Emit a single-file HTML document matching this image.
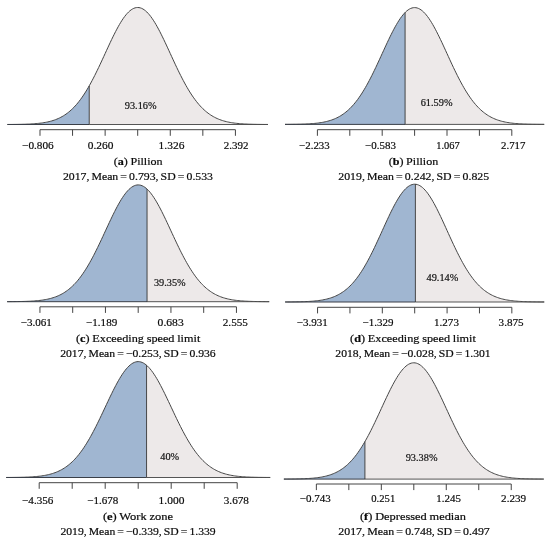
<!DOCTYPE html>
<html><head><meta charset="utf-8"><title>Figure</title>
<style>html,body{margin:0;padding:0;background:#fff}body{width:550px;height:541px;overflow:hidden}</style></head>
<body>
<svg width="550" height="541" viewBox="0 0 550 541" style="display:block" font-family="'Liberation Serif', serif" fill="#111">
<style>text{stroke:#0a0a0a;stroke-width:0.2px;fill:#0a0a0a}text.p{stroke:#111;stroke-width:0.2px;fill:#111}</style>
<rect width="550" height="541" fill="#fff"/>
<path d="M7.42,124.46 L8.44,124.46 L9.47,124.45 L10.49,124.44 L11.51,124.44 L12.53,124.43 L13.56,124.42 L14.58,124.41 L15.60,124.40 L16.62,124.38 L17.65,124.37 L18.67,124.35 L19.69,124.33 L20.72,124.32 L21.74,124.29 L22.76,124.27 L23.78,124.24 L24.81,124.21 L25.83,124.18 L26.85,124.14 L27.88,124.10 L28.90,124.06 L29.92,124.01 L30.94,123.96 L31.97,123.90 L32.99,123.83 L34.01,123.76 L35.03,123.69 L36.06,123.60 L37.08,123.51 L38.10,123.41 L39.13,123.30 L40.15,123.18 L41.17,123.05 L42.19,122.91 L43.22,122.76 L44.24,122.59 L45.26,122.42 L46.29,122.22 L47.31,122.01 L48.33,121.79 L49.35,121.55 L50.38,121.28 L51.40,121.00 L52.42,120.70 L53.44,120.38 L54.47,120.03 L55.49,119.66 L56.51,119.26 L57.54,118.84 L58.56,118.39 L59.58,117.91 L60.60,117.40 L61.63,116.85 L62.65,116.27 L63.67,115.66 L64.70,115.01 L65.72,114.32 L66.74,113.60 L67.76,112.83 L68.79,112.02 L69.81,111.17 L70.83,110.28 L71.85,109.34 L72.88,108.35 L73.90,107.32 L74.92,106.24 L75.95,105.11 L76.97,103.93 L77.99,102.70 L79.01,101.42 L80.04,100.09 L81.06,98.71 L82.08,97.27 L83.11,95.79 L84.13,94.25 L85.15,92.66 L86.17,91.03 L87.20,89.34 L88.22,87.60 L89.24,85.82 L89.24,124.5 Z" fill="#a0b6d1"/>
<path d="M89.24,85.82 L91.48,81.76 L93.71,77.50 L95.94,73.06 L98.18,68.46 L100.41,63.74 L102.65,58.93 L104.88,54.08 L107.12,49.21 L109.35,44.39 L111.58,39.66 L113.82,35.08 L116.05,30.69 L118.29,26.54 L120.52,22.69 L122.76,19.19 L124.99,16.08 L127.22,13.40 L129.46,11.19 L131.69,9.47 L133.93,8.28 L136.16,7.63 L138.40,7.53 L140.63,7.97 L142.86,8.96 L145.10,10.48 L147.33,12.51 L149.57,15.01 L151.80,17.97 L154.03,21.33 L156.27,25.05 L158.50,29.09 L160.74,33.39 L162.97,37.91 L165.21,42.59 L167.44,47.39 L169.67,52.24 L171.91,57.10 L174.14,61.94 L176.38,66.69 L178.61,71.34 L180.85,75.84 L183.08,80.18 L185.31,84.31 L187.55,88.23 L189.78,91.92 L192.02,95.38 L194.25,98.58 L196.48,101.55 L198.72,104.27 L200.95,106.75 L203.19,109.00 L205.42,111.03 L207.66,112.85 L209.89,114.47 L212.12,115.90 L214.36,117.17 L216.59,118.28 L218.83,119.24 L221.06,120.08 L223.30,120.80 L225.53,121.42 L227.76,121.94 L230.00,122.39 L232.23,122.77 L234.47,123.08 L236.70,123.35 L238.94,123.57 L241.17,123.75 L243.40,123.90 L245.64,124.02 L247.87,124.12 L250.11,124.20 L252.34,124.26 L254.57,124.31 L256.81,124.35 L259.04,124.39 L261.28,124.41 L263.51,124.43 L265.75,124.45 L267.98,124.46 L89.24,124.5 Z" fill="#ede9e9"/>
<path d="M7.42,124.46 L8.72,124.45 L10.03,124.45 L11.33,124.44 L12.63,124.43 L13.93,124.41 L15.24,124.40 L16.54,124.38 L17.84,124.37 L19.15,124.34 L20.45,124.32 L21.75,124.29 L23.05,124.26 L24.36,124.23 L25.66,124.18 L26.96,124.14 L28.26,124.09 L29.57,124.03 L30.87,123.96 L32.17,123.89 L33.48,123.80 L34.78,123.71 L36.08,123.60 L37.38,123.48 L38.69,123.35 L39.99,123.20 L41.29,123.04 L42.60,122.85 L43.90,122.65 L45.20,122.43 L46.50,122.18 L47.81,121.91 L49.11,121.61 L50.41,121.27 L51.72,120.91 L53.02,120.52 L54.32,120.08 L55.62,119.61 L56.93,119.10 L58.23,118.54 L59.53,117.93 L60.83,117.28 L62.14,116.57 L63.44,115.80 L64.74,114.98 L66.05,114.10 L67.35,113.15 L68.65,112.13 L69.95,111.05 L71.26,109.89 L72.56,108.67 L73.86,107.36 L75.17,105.98 L76.47,104.52 L77.77,102.97 L79.07,101.35 L80.38,99.64 L81.68,97.85 L82.98,95.97 L84.29,94.01 L85.59,91.97 L86.89,89.85 L88.19,87.65 L89.50,85.37 L90.80,83.01 L92.10,80.59 L93.40,78.10 L94.71,75.54 L96.01,72.93 L97.31,70.26 L98.62,67.55 L99.92,64.80 L101.22,62.01 L102.52,59.20 L103.83,56.37 L105.13,53.54 L106.43,50.70 L107.74,47.87 L109.04,45.06 L110.34,42.28 L111.64,39.54 L112.95,36.85 L114.25,34.21 L115.55,31.65 L116.86,29.17 L118.16,26.77 L119.46,24.48 L120.76,22.30 L122.07,20.23 L123.37,18.29 L124.67,16.50 L125.97,14.84 L127.28,13.34 L128.58,12.00 L129.88,10.82 L131.19,9.82 L132.49,8.99 L133.79,8.34 L135.09,7.87 L136.40,7.59 L137.70,7.50 L139.00,7.59 L140.31,7.87 L141.61,8.34 L142.91,8.99 L144.21,9.82 L145.52,10.82 L146.82,12.00 L148.12,13.34 L149.43,14.84 L150.73,16.50 L152.03,18.29 L153.33,20.23 L154.64,22.30 L155.94,24.48 L157.24,26.77 L158.54,29.17 L159.85,31.65 L161.15,34.21 L162.45,36.85 L163.76,39.54 L165.06,42.28 L166.36,45.06 L167.66,47.87 L168.97,50.70 L170.27,53.54 L171.57,56.37 L172.88,59.20 L174.18,62.01 L175.48,64.80 L176.78,67.55 L178.09,70.26 L179.39,72.93 L180.69,75.54 L182.00,78.10 L183.30,80.59 L184.60,83.01 L185.90,85.37 L187.21,87.65 L188.51,89.85 L189.81,91.97 L191.11,94.01 L192.42,95.97 L193.72,97.85 L195.02,99.64 L196.33,101.35 L197.63,102.97 L198.93,104.52 L200.23,105.98 L201.54,107.36 L202.84,108.67 L204.14,109.89 L205.45,111.05 L206.75,112.13 L208.05,113.15 L209.35,114.10 L210.66,114.98 L211.96,115.80 L213.26,116.57 L214.57,117.28 L215.87,117.93 L217.17,118.54 L218.47,119.10 L219.78,119.61 L221.08,120.08 L222.38,120.52 L223.68,120.91 L224.99,121.27 L226.29,121.61 L227.59,121.91 L228.90,122.18 L230.20,122.43 L231.50,122.65 L232.80,122.85 L234.11,123.04 L235.41,123.20 L236.71,123.35 L238.02,123.48 L239.32,123.60 L240.62,123.71 L241.92,123.80 L243.23,123.89 L244.53,123.96 L245.83,124.03 L247.14,124.09 L248.44,124.14 L249.74,124.18 L251.04,124.23 L252.35,124.26 L253.65,124.29 L254.95,124.32 L256.25,124.34 L257.56,124.37 L258.86,124.38 L260.16,124.40 L261.47,124.41 L262.77,124.43 L264.07,124.44 L265.37,124.45 L266.68,124.45 L267.98,124.46" fill="none" stroke="#464646" stroke-width="1"/>
<path d="M7.42,124.5 L89.24,124.5" fill="none" stroke="#3a3f48" stroke-width="1"/>
<path d="M89.24,124.5 L267.98,124.5" fill="none" stroke="#4c4c4c" stroke-width="0.95"/>
<path d="M89.24,85.82 L89.24,124.5" stroke="#2a2a2a" stroke-width="0.85" fill="none"/>
<path d="M39.99,129.7 L235.41,129.7 M39.99,129.7 v6.1 M72.56,129.7 v6.1 M105.13,129.7 v6.1 M137.70,129.7 v6.1 M170.27,129.7 v6.1 M202.84,129.7 v6.1 M235.41,129.7 v6.1" stroke="#444" stroke-width="1" fill="none"/>
<text class="p" x="140.7" y="108.5" font-size="10.3" text-anchor="middle">93.16%</text>
<text x="22.1" y="148.6" font-size="11.3" textLength="31.6" lengthAdjust="spacingAndGlyphs">−0.806</text>
<text x="87.8" y="148.6" font-size="11.3" textLength="25.6" lengthAdjust="spacingAndGlyphs">0.260</text>
<text x="158.6" y="148.6" font-size="11.3" textLength="25.8" lengthAdjust="spacingAndGlyphs">1.326</text>
<text x="223.8" y="148.6" font-size="11.3" textLength="24.6" lengthAdjust="spacingAndGlyphs">2.392</text>
<text x="113.7" y="164.6" font-size="11.3" word-spacing="-0.3" textLength="48.9" lengthAdjust="spacingAndGlyphs" xml:space="preserve">(<tspan font-weight="bold">a</tspan>) Pillion</text>
<text x="62.9" y="179.8" font-size="11.3" textLength="150.1" lengthAdjust="spacingAndGlyphs" word-spacing="-0.8">2017, Mean = 0.793, SD = 0.533</text>
<path d="M285.00,124.36 L286.50,124.35 L288.00,124.34 L289.50,124.33 L291.00,124.32 L292.51,124.30 L294.01,124.29 L295.51,124.26 L297.01,124.24 L298.51,124.21 L300.01,124.18 L301.51,124.14 L303.01,124.09 L304.52,124.04 L306.02,123.97 L307.52,123.90 L309.02,123.82 L310.52,123.73 L312.02,123.62 L313.52,123.50 L315.02,123.36 L316.53,123.20 L318.03,123.03 L319.53,122.82 L321.03,122.60 L322.53,122.34 L324.03,122.05 L325.53,121.73 L327.03,121.37 L328.53,120.97 L330.04,120.53 L331.54,120.03 L333.04,119.49 L334.54,118.88 L336.04,118.22 L337.54,117.50 L339.04,116.70 L340.54,115.83 L342.05,114.88 L343.55,113.85 L345.05,112.74 L346.55,111.53 L348.05,110.23 L349.55,108.83 L351.05,107.33 L352.55,105.73 L354.06,104.02 L355.56,102.20 L357.06,100.27 L358.56,98.23 L360.06,96.08 L361.56,93.81 L363.06,91.44 L364.56,88.96 L366.06,86.37 L367.57,83.68 L369.07,80.89 L370.57,78.01 L372.07,75.05 L373.57,72.01 L375.07,68.91 L376.57,65.74 L378.07,62.53 L379.58,59.28 L381.08,56.01 L382.58,52.73 L384.08,49.45 L385.58,46.19 L387.08,42.97 L388.58,39.79 L390.08,36.68 L391.59,33.64 L393.09,30.71 L394.59,27.88 L396.09,25.19 L397.59,22.64 L399.09,20.24 L400.59,18.02 L402.09,15.99 L403.59,14.15 L405.10,12.52 L405.10,124.4 Z" fill="#a0b6d1"/>
<path d="M405.10,12.52 L406.83,10.91 L408.57,9.60 L410.31,8.62 L412.05,7.96 L413.79,7.64 L415.53,7.65 L417.27,8.00 L419.01,8.68 L420.75,9.68 L422.48,11.01 L424.22,12.64 L425.96,14.56 L427.70,16.77 L429.44,19.23 L431.18,21.93 L432.92,24.85 L434.66,27.96 L436.39,31.25 L438.13,34.68 L439.87,38.24 L441.61,41.89 L443.35,45.61 L445.09,49.38 L446.83,53.18 L448.57,56.98 L450.30,60.76 L452.04,64.50 L453.78,68.18 L455.52,71.79 L457.26,75.31 L459.00,78.72 L460.74,82.02 L462.48,85.20 L464.22,88.24 L465.95,91.14 L467.69,93.90 L469.43,96.50 L471.17,98.96 L472.91,101.27 L474.65,103.43 L476.39,105.44 L478.13,107.31 L479.86,109.04 L481.60,110.63 L483.34,112.10 L485.08,113.44 L486.82,114.66 L488.56,115.77 L490.30,116.78 L492.04,117.68 L493.77,118.50 L495.51,119.23 L497.25,119.89 L498.99,120.47 L500.73,120.99 L502.47,121.45 L504.21,121.85 L505.95,122.21 L507.69,122.52 L509.42,122.79 L511.16,123.02 L512.90,123.23 L514.64,123.41 L516.38,123.56 L518.12,123.69 L519.86,123.80 L521.60,123.90 L523.33,123.98 L525.07,124.05 L526.81,124.11 L528.55,124.16 L530.29,124.20 L532.03,124.24 L533.77,124.27 L535.51,124.29 L537.24,124.31 L538.98,124.33 L540.72,124.34 L542.46,124.35 L544.20,124.36 L405.10,124.4 Z" fill="#ede9e9"/>
<path d="M285.00,124.36 L286.30,124.35 L287.59,124.35 L288.89,124.34 L290.18,124.33 L291.48,124.31 L292.78,124.30 L294.07,124.28 L295.37,124.27 L296.66,124.25 L297.96,124.22 L299.26,124.19 L300.55,124.16 L301.85,124.13 L303.14,124.09 L304.44,124.04 L305.74,123.99 L307.03,123.93 L308.33,123.86 L309.62,123.79 L310.92,123.70 L312.22,123.61 L313.51,123.50 L314.81,123.38 L316.10,123.25 L317.40,123.10 L318.70,122.94 L319.99,122.76 L321.29,122.55 L322.58,122.33 L323.88,122.08 L325.18,121.81 L326.47,121.51 L327.77,121.18 L329.06,120.82 L330.36,120.42 L331.66,119.99 L332.95,119.52 L334.25,119.01 L335.54,118.45 L336.84,117.84 L338.14,117.19 L339.43,116.48 L340.73,115.72 L342.02,114.90 L343.32,114.01 L344.62,113.07 L345.91,112.05 L347.21,110.97 L348.50,109.82 L349.80,108.59 L351.10,107.29 L352.39,105.91 L353.69,104.45 L354.98,102.91 L356.28,101.29 L357.58,99.58 L358.87,97.79 L360.17,95.92 L361.46,93.96 L362.76,91.93 L364.06,89.81 L365.35,87.61 L366.65,85.33 L367.94,82.98 L369.24,80.56 L370.54,78.08 L371.83,75.53 L373.13,72.92 L374.42,70.26 L375.72,67.55 L377.02,64.80 L378.31,62.02 L379.61,59.21 L380.90,56.39 L382.20,53.56 L383.50,50.73 L384.79,47.90 L386.09,45.10 L387.38,42.32 L388.68,39.59 L389.98,36.90 L391.27,34.27 L392.57,31.71 L393.86,29.23 L395.16,26.84 L396.46,24.55 L397.75,22.37 L399.05,20.31 L400.34,18.38 L401.64,16.58 L402.94,14.93 L404.23,13.43 L405.53,12.09 L406.82,10.92 L408.12,9.91 L409.42,9.09 L410.71,8.44 L412.01,7.97 L413.30,7.69 L414.60,7.60 L415.90,7.69 L417.19,7.97 L418.49,8.44 L419.78,9.09 L421.08,9.91 L422.38,10.92 L423.67,12.09 L424.97,13.43 L426.26,14.93 L427.56,16.58 L428.86,18.38 L430.15,20.31 L431.45,22.37 L432.74,24.55 L434.04,26.84 L435.34,29.23 L436.63,31.71 L437.93,34.27 L439.22,36.90 L440.52,39.59 L441.82,42.32 L443.11,45.10 L444.41,47.90 L445.70,50.73 L447.00,53.56 L448.30,56.39 L449.59,59.21 L450.89,62.02 L452.18,64.80 L453.48,67.55 L454.78,70.26 L456.07,72.92 L457.37,75.53 L458.66,78.08 L459.96,80.56 L461.26,82.98 L462.55,85.33 L463.85,87.61 L465.14,89.81 L466.44,91.93 L467.74,93.96 L469.03,95.92 L470.33,97.79 L471.62,99.58 L472.92,101.29 L474.22,102.91 L475.51,104.45 L476.81,105.91 L478.10,107.29 L479.40,108.59 L480.70,109.82 L481.99,110.97 L483.29,112.05 L484.58,113.07 L485.88,114.01 L487.18,114.90 L488.47,115.72 L489.77,116.48 L491.06,117.19 L492.36,117.84 L493.66,118.45 L494.95,119.01 L496.25,119.52 L497.54,119.99 L498.84,120.42 L500.14,120.82 L501.43,121.18 L502.73,121.51 L504.02,121.81 L505.32,122.08 L506.62,122.33 L507.91,122.55 L509.21,122.76 L510.50,122.94 L511.80,123.10 L513.10,123.25 L514.39,123.38 L515.69,123.50 L516.98,123.61 L518.28,123.70 L519.58,123.79 L520.87,123.86 L522.17,123.93 L523.46,123.99 L524.76,124.04 L526.06,124.09 L527.35,124.13 L528.65,124.16 L529.94,124.19 L531.24,124.22 L532.54,124.25 L533.83,124.27 L535.13,124.28 L536.42,124.30 L537.72,124.31 L539.02,124.33 L540.31,124.34 L541.61,124.35 L542.90,124.35 L544.20,124.36" fill="none" stroke="#464646" stroke-width="1"/>
<path d="M285.00,124.4 L405.10,124.4" fill="none" stroke="#3a3f48" stroke-width="1"/>
<path d="M405.10,124.4 L544.20,124.4" fill="none" stroke="#4c4c4c" stroke-width="0.95"/>
<path d="M405.10,12.52 L405.10,124.4" stroke="#2a2a2a" stroke-width="0.85" fill="none"/>
<path d="M317.40,129.7 L511.80,129.7 M317.40,129.7 v6.1 M349.80,129.7 v6.1 M382.20,129.7 v6.1 M414.60,129.7 v6.1 M447.00,129.7 v6.1 M479.40,129.7 v6.1 M511.80,129.7 v6.1" stroke="#444" stroke-width="1" fill="none"/>
<text class="p" x="436.6" y="105.7" font-size="10.3" text-anchor="middle">61.59%</text>
<text x="299.1" y="148.6" font-size="11.3" textLength="30.6" lengthAdjust="spacingAndGlyphs">−2.233</text>
<text x="365.1" y="148.6" font-size="11.3" textLength="30.8" lengthAdjust="spacingAndGlyphs">−0.583</text>
<text x="436.3" y="148.6" font-size="11.3" textLength="23.4" lengthAdjust="spacingAndGlyphs">1.067</text>
<text x="501.1" y="148.6" font-size="11.3" textLength="24.3" lengthAdjust="spacingAndGlyphs">2.717</text>
<text x="388.7" y="164.6" font-size="11.3" word-spacing="-0.3" textLength="49.5" lengthAdjust="spacingAndGlyphs" xml:space="preserve">(<tspan font-weight="bold">b</tspan>) Pillion</text>
<text x="338.3" y="179.8" font-size="11.3" textLength="150.9" lengthAdjust="spacingAndGlyphs" word-spacing="-0.8">2019, Mean = 0.242, SD = 0.825</text>
<path d="M7.20,301.66 L8.95,301.65 L10.70,301.64 L12.44,301.63 L14.19,301.61 L15.94,301.59 L17.69,301.57 L19.44,301.54 L21.19,301.50 L22.93,301.46 L24.68,301.41 L26.43,301.35 L28.18,301.29 L29.93,301.21 L31.67,301.11 L33.42,301.00 L35.17,300.87 L36.92,300.72 L38.67,300.55 L40.41,300.35 L42.16,300.11 L43.91,299.85 L45.66,299.54 L47.41,299.20 L49.16,298.80 L50.90,298.35 L52.65,297.85 L54.40,297.28 L56.15,296.64 L57.90,295.92 L59.64,295.12 L61.39,294.23 L63.14,293.25 L64.89,292.16 L66.64,290.97 L68.39,289.66 L70.13,288.23 L71.88,286.67 L73.63,284.98 L75.38,283.15 L77.13,281.18 L78.87,279.06 L80.62,276.80 L82.37,274.38 L84.12,271.83 L85.87,269.12 L87.62,266.27 L89.36,263.28 L91.11,260.15 L92.86,256.90 L94.61,253.54 L96.36,250.06 L98.10,246.50 L99.85,242.85 L101.60,239.15 L103.35,235.40 L105.10,231.62 L106.84,227.84 L108.59,224.08 L110.34,220.36 L112.09,216.70 L113.84,213.13 L115.59,209.68 L117.33,206.36 L119.08,203.20 L120.83,200.23 L122.58,197.46 L124.33,194.92 L126.07,192.64 L127.82,190.62 L129.57,188.88 L131.32,187.45 L133.07,186.33 L134.82,185.52 L136.56,185.05 L138.31,184.90 L140.06,185.09 L141.81,185.61 L143.56,186.45 L145.30,187.62 L147.05,189.09 L147.05,301.7 Z" fill="#a0b6d1"/>
<path d="M147.05,189.09 L148.58,190.62 L150.11,192.37 L151.63,194.32 L153.16,196.47 L154.69,198.80 L156.21,201.30 L157.74,203.94 L159.27,206.73 L160.79,209.64 L162.32,212.65 L163.85,215.75 L165.37,218.92 L166.90,222.15 L168.43,225.41 L169.95,228.71 L171.48,232.01 L173.01,235.30 L174.54,238.58 L176.06,241.83 L177.59,245.03 L179.12,248.18 L180.64,251.26 L182.17,254.27 L183.70,257.20 L185.22,260.04 L186.75,262.78 L188.28,265.41 L189.80,267.95 L191.33,270.37 L192.86,272.69 L194.38,274.89 L195.91,276.97 L197.44,278.95 L198.97,280.81 L200.49,282.56 L202.02,284.21 L203.55,285.74 L205.07,287.18 L206.60,288.51 L208.13,289.75 L209.65,290.89 L211.18,291.95 L212.71,292.92 L214.23,293.81 L215.76,294.63 L217.29,295.37 L218.81,296.05 L220.34,296.67 L221.87,297.23 L223.39,297.74 L224.92,298.19 L226.45,298.60 L227.98,298.97 L229.50,299.30 L231.03,299.60 L232.56,299.86 L234.08,300.09 L235.61,300.30 L237.14,300.48 L238.66,300.64 L240.19,300.78 L241.72,300.91 L243.24,301.02 L244.77,301.11 L246.30,301.20 L247.82,301.27 L249.35,301.33 L250.88,301.39 L252.40,301.43 L253.93,301.47 L255.46,301.51 L256.99,301.54 L258.51,301.56 L260.04,301.58 L261.57,301.60 L263.09,301.62 L264.62,301.63 L266.15,301.64 L267.67,301.65 L269.20,301.66 L147.05,301.7 Z" fill="#ede9e9"/>
<path d="M7.20,301.66 L8.51,301.65 L9.82,301.65 L11.13,301.64 L12.44,301.63 L13.75,301.61 L15.06,301.60 L16.37,301.58 L17.68,301.57 L18.99,301.55 L20.30,301.52 L21.61,301.49 L22.92,301.46 L24.23,301.43 L25.54,301.39 L26.85,301.34 L28.16,301.29 L29.47,301.23 L30.78,301.16 L32.09,301.09 L33.40,301.00 L34.71,300.91 L36.02,300.80 L37.33,300.68 L38.64,300.55 L39.95,300.40 L41.26,300.24 L42.57,300.06 L43.88,299.85 L45.19,299.63 L46.50,299.38 L47.81,299.11 L49.12,298.81 L50.43,298.48 L51.74,298.12 L53.05,297.72 L54.36,297.29 L55.67,296.82 L56.98,296.31 L58.29,295.75 L59.60,295.14 L60.91,294.49 L62.22,293.78 L63.53,293.02 L64.84,292.20 L66.15,291.31 L67.46,290.37 L68.77,289.35 L70.08,288.27 L71.39,287.12 L72.70,285.89 L74.01,284.59 L75.32,283.21 L76.63,281.75 L77.94,280.21 L79.25,278.59 L80.56,276.88 L81.87,275.09 L83.18,273.22 L84.49,271.26 L85.80,269.23 L87.11,267.11 L88.42,264.91 L89.73,262.63 L91.04,260.28 L92.35,257.86 L93.66,255.38 L94.97,252.83 L96.28,250.22 L97.59,247.56 L98.90,244.85 L100.21,242.10 L101.52,239.32 L102.83,236.51 L104.14,233.69 L105.45,230.86 L106.76,228.03 L108.07,225.20 L109.38,222.40 L110.69,219.62 L112.00,216.89 L113.31,214.20 L114.62,211.57 L115.93,209.01 L117.24,206.53 L118.55,204.14 L119.86,201.85 L121.17,199.67 L122.48,197.61 L123.79,195.68 L125.10,193.88 L126.41,192.23 L127.72,190.73 L129.03,189.39 L130.34,188.22 L131.65,187.21 L132.96,186.39 L134.27,185.74 L135.58,185.27 L136.89,184.99 L138.20,184.90 L139.51,184.99 L140.82,185.27 L142.13,185.74 L143.44,186.39 L144.75,187.21 L146.06,188.22 L147.37,189.39 L148.68,190.73 L149.99,192.23 L151.30,193.88 L152.61,195.68 L153.92,197.61 L155.23,199.67 L156.54,201.85 L157.85,204.14 L159.16,206.53 L160.47,209.01 L161.78,211.57 L163.09,214.20 L164.40,216.89 L165.71,219.62 L167.02,222.40 L168.33,225.20 L169.64,228.03 L170.95,230.86 L172.26,233.69 L173.57,236.51 L174.88,239.32 L176.19,242.10 L177.50,244.85 L178.81,247.56 L180.12,250.22 L181.43,252.83 L182.74,255.38 L184.05,257.86 L185.36,260.28 L186.67,262.63 L187.98,264.91 L189.29,267.11 L190.60,269.23 L191.91,271.26 L193.22,273.22 L194.53,275.09 L195.84,276.88 L197.15,278.59 L198.46,280.21 L199.77,281.75 L201.08,283.21 L202.39,284.59 L203.70,285.89 L205.01,287.12 L206.32,288.27 L207.63,289.35 L208.94,290.37 L210.25,291.31 L211.56,292.20 L212.87,293.02 L214.18,293.78 L215.49,294.49 L216.80,295.14 L218.11,295.75 L219.42,296.31 L220.73,296.82 L222.04,297.29 L223.35,297.72 L224.66,298.12 L225.97,298.48 L227.28,298.81 L228.59,299.11 L229.90,299.38 L231.21,299.63 L232.52,299.85 L233.83,300.06 L235.14,300.24 L236.45,300.40 L237.76,300.55 L239.07,300.68 L240.38,300.80 L241.69,300.91 L243.00,301.00 L244.31,301.09 L245.62,301.16 L246.93,301.23 L248.24,301.29 L249.55,301.34 L250.86,301.39 L252.17,301.43 L253.48,301.46 L254.79,301.49 L256.10,301.52 L257.41,301.55 L258.72,301.57 L260.03,301.58 L261.34,301.60 L262.65,301.61 L263.96,301.63 L265.27,301.64 L266.58,301.65 L267.89,301.65 L269.20,301.66" fill="none" stroke="#464646" stroke-width="1"/>
<path d="M7.20,301.7 L147.05,301.7" fill="none" stroke="#3a3f48" stroke-width="1"/>
<path d="M147.05,301.7 L269.20,301.7" fill="none" stroke="#4c4c4c" stroke-width="0.95"/>
<path d="M147.05,189.09 L147.05,301.7" stroke="#2a2a2a" stroke-width="0.85" fill="none"/>
<path d="M39.95,306.8 L236.45,306.8 M39.95,306.8 v6.1 M72.70,306.8 v6.1 M105.45,306.8 v6.1 M138.20,306.8 v6.1 M170.95,306.8 v6.1 M203.70,306.8 v6.1 M236.45,306.8 v6.1" stroke="#444" stroke-width="1" fill="none"/>
<text class="p" x="169.8" y="285.7" font-size="10.3" text-anchor="middle">39.35%</text>
<text x="20.8" y="325.6" font-size="11.3" textLength="31.1" lengthAdjust="spacingAndGlyphs">−3.061</text>
<text x="86.1" y="325.6" font-size="11.3" textLength="31.1" lengthAdjust="spacingAndGlyphs">−1.189</text>
<text x="157.6" y="325.6" font-size="11.3" textLength="26.1" lengthAdjust="spacingAndGlyphs">0.683</text>
<text x="222.8" y="325.6" font-size="11.3" textLength="25.1" lengthAdjust="spacingAndGlyphs">2.555</text>
<text x="76.0" y="342.4" font-size="11.3" word-spacing="-0.3" textLength="124.3" lengthAdjust="spacingAndGlyphs" xml:space="preserve">(<tspan font-weight="bold">c</tspan>) Exceeding speed limit</text>
<text x="60.2" y="357.4" font-size="11.3" textLength="155.5" lengthAdjust="spacingAndGlyphs" word-spacing="-0.8">2017, Mean = −0.253, SD = 0.936</text>
<path d="M285.18,301.96 L286.81,301.95 L288.44,301.94 L290.06,301.93 L291.69,301.91 L293.32,301.90 L294.95,301.87 L296.57,301.85 L298.20,301.82 L299.83,301.78 L301.46,301.74 L303.08,301.69 L304.71,301.63 L306.34,301.56 L307.97,301.49 L309.60,301.39 L311.22,301.29 L312.85,301.16 L314.48,301.02 L316.11,300.86 L317.73,300.67 L319.36,300.46 L320.99,300.21 L322.62,299.93 L324.25,299.62 L325.87,299.26 L327.50,298.86 L329.13,298.41 L330.76,297.91 L332.38,297.35 L334.01,296.72 L335.64,296.02 L337.27,295.25 L338.89,294.40 L340.52,293.46 L342.15,292.43 L343.78,291.30 L345.41,290.07 L347.03,288.73 L348.66,287.28 L350.29,285.71 L351.92,284.02 L353.54,282.21 L355.17,280.26 L356.80,278.19 L358.43,275.98 L360.05,273.64 L361.68,271.17 L363.31,268.57 L364.94,265.84 L366.57,262.98 L368.19,260.01 L369.82,256.92 L371.45,253.73 L373.08,250.44 L374.70,247.07 L376.33,243.62 L377.96,240.12 L379.59,236.57 L381.21,232.99 L382.84,229.40 L384.47,225.81 L386.10,222.25 L387.73,218.74 L389.35,215.29 L390.98,211.92 L392.61,208.66 L394.24,205.52 L395.86,202.54 L397.49,199.71 L399.12,197.08 L400.75,194.64 L402.38,192.43 L404.00,190.46 L405.63,188.73 L407.26,187.27 L408.89,186.08 L410.51,185.18 L412.14,184.57 L413.77,184.25 L415.40,184.23 L415.40,302.0 Z" fill="#a0b6d1"/>
<path d="M415.40,184.23 L417.01,184.50 L418.62,185.06 L420.23,185.90 L421.84,187.03 L423.45,188.42 L425.06,190.08 L426.67,191.98 L428.28,194.12 L429.89,196.47 L431.50,199.03 L433.11,201.78 L434.72,204.70 L436.33,207.76 L437.94,210.95 L439.55,214.25 L441.16,217.64 L442.77,221.10 L444.38,224.61 L445.99,228.15 L447.60,231.70 L449.21,235.25 L450.82,238.77 L452.43,242.26 L454.04,245.69 L455.65,249.06 L457.26,252.35 L458.87,255.55 L460.48,258.65 L462.10,261.64 L463.71,264.52 L465.32,267.28 L466.93,269.92 L468.54,272.43 L470.15,274.81 L471.76,277.06 L473.37,279.18 L474.98,281.17 L476.59,283.04 L478.20,284.78 L479.81,286.40 L481.42,287.90 L483.03,289.29 L484.64,290.57 L486.25,291.75 L487.86,292.82 L489.47,293.81 L491.08,294.71 L492.69,295.52 L494.30,296.26 L495.91,296.93 L497.52,297.53 L499.13,298.07 L500.74,298.55 L502.35,298.98 L503.96,299.36 L505.57,299.70 L507.18,300.01 L508.79,300.27 L510.40,300.51 L512.01,300.71 L513.62,300.89 L515.23,301.05 L516.85,301.19 L518.46,301.31 L520.07,301.41 L521.68,301.50 L523.29,301.57 L524.90,301.64 L526.51,301.70 L528.12,301.74 L529.73,301.79 L531.34,301.82 L532.95,301.85 L534.56,301.88 L536.17,301.90 L537.78,301.91 L539.39,301.93 L541.00,301.94 L542.61,301.95 L544.22,301.96 L415.40,302.0 Z" fill="#ede9e9"/>
<path d="M285.18,301.96 L286.48,301.95 L287.77,301.95 L289.07,301.94 L290.36,301.93 L291.66,301.91 L292.95,301.90 L294.25,301.88 L295.54,301.86 L296.84,301.84 L298.13,301.82 L299.43,301.79 L300.72,301.76 L302.02,301.72 L303.31,301.68 L304.61,301.64 L305.90,301.58 L307.20,301.52 L308.49,301.46 L309.79,301.38 L311.08,301.30 L312.38,301.20 L313.67,301.09 L314.97,300.97 L316.26,300.84 L317.56,300.69 L318.86,300.53 L320.15,300.34 L321.45,300.14 L322.74,299.91 L324.04,299.66 L325.33,299.39 L326.63,299.09 L327.92,298.75 L329.22,298.39 L330.51,297.99 L331.81,297.55 L333.10,297.08 L334.40,296.56 L335.69,296.00 L336.99,295.39 L338.28,294.73 L339.58,294.01 L340.87,293.24 L342.17,292.42 L343.46,291.53 L344.76,290.57 L346.05,289.55 L347.35,288.46 L348.64,287.29 L349.94,286.06 L351.24,284.74 L352.53,283.35 L353.83,281.88 L355.12,280.32 L356.42,278.69 L357.71,276.97 L359.01,275.16 L360.30,273.27 L361.60,271.30 L362.89,269.25 L364.19,267.11 L365.48,264.89 L366.78,262.60 L368.07,260.23 L369.37,257.79 L370.66,255.28 L371.96,252.71 L373.25,250.08 L374.55,247.39 L375.84,244.66 L377.14,241.89 L378.43,239.08 L379.73,236.25 L381.02,233.41 L382.32,230.55 L383.62,227.69 L384.91,224.85 L386.21,222.02 L387.50,219.22 L388.80,216.46 L390.09,213.75 L391.39,211.10 L392.68,208.52 L393.98,206.02 L395.27,203.61 L396.57,201.30 L397.86,199.10 L399.16,197.02 L400.45,195.07 L401.75,193.26 L403.04,191.59 L404.34,190.08 L405.63,188.73 L406.93,187.54 L408.22,186.53 L409.52,185.70 L410.81,185.05 L412.11,184.58 L413.40,184.29 L414.70,184.20 L416.00,184.29 L417.29,184.58 L418.59,185.05 L419.88,185.70 L421.18,186.53 L422.47,187.54 L423.77,188.73 L425.06,190.08 L426.36,191.59 L427.65,193.26 L428.95,195.07 L430.24,197.02 L431.54,199.10 L432.83,201.30 L434.13,203.61 L435.42,206.02 L436.72,208.52 L438.01,211.10 L439.31,213.75 L440.60,216.46 L441.90,219.22 L443.19,222.02 L444.49,224.85 L445.78,227.69 L447.08,230.55 L448.38,233.41 L449.67,236.25 L450.97,239.08 L452.26,241.89 L453.56,244.66 L454.85,247.39 L456.15,250.08 L457.44,252.71 L458.74,255.28 L460.03,257.79 L461.33,260.23 L462.62,262.60 L463.92,264.89 L465.21,267.11 L466.51,269.25 L467.80,271.30 L469.10,273.27 L470.39,275.16 L471.69,276.97 L472.98,278.69 L474.28,280.32 L475.57,281.88 L476.87,283.35 L478.16,284.74 L479.46,286.06 L480.76,287.29 L482.05,288.46 L483.35,289.55 L484.64,290.57 L485.94,291.53 L487.23,292.42 L488.53,293.24 L489.82,294.01 L491.12,294.73 L492.41,295.39 L493.71,296.00 L495.00,296.56 L496.30,297.08 L497.59,297.55 L498.89,297.99 L500.18,298.39 L501.48,298.75 L502.77,299.09 L504.07,299.39 L505.36,299.66 L506.66,299.91 L507.95,300.14 L509.25,300.34 L510.54,300.53 L511.84,300.69 L513.14,300.84 L514.43,300.97 L515.73,301.09 L517.02,301.20 L518.32,301.30 L519.61,301.38 L520.91,301.46 L522.20,301.52 L523.50,301.58 L524.79,301.64 L526.09,301.68 L527.38,301.72 L528.68,301.76 L529.97,301.79 L531.27,301.82 L532.56,301.84 L533.86,301.86 L535.15,301.88 L536.45,301.90 L537.74,301.91 L539.04,301.93 L540.33,301.94 L541.63,301.95 L542.92,301.95 L544.22,301.96" fill="none" stroke="#464646" stroke-width="1"/>
<path d="M285.18,302.0 L415.40,302.0" fill="none" stroke="#3a3f48" stroke-width="1"/>
<path d="M415.40,302.0 L544.22,302.0" fill="none" stroke="#4c4c4c" stroke-width="0.95"/>
<path d="M415.40,184.23 L415.40,302.0" stroke="#2a2a2a" stroke-width="0.85" fill="none"/>
<path d="M317.56,307.3 L511.84,307.3 M317.56,307.3 v6.1 M349.94,307.3 v6.1 M382.32,307.3 v6.1 M414.70,307.3 v6.1 M447.08,307.3 v6.1 M479.46,307.3 v6.1 M511.84,307.3 v6.1" stroke="#444" stroke-width="1" fill="none"/>
<text class="p" x="442.4" y="281.0" font-size="10.3" text-anchor="middle">49.14%</text>
<text x="296.8" y="325.6" font-size="11.3" textLength="31.1" lengthAdjust="spacingAndGlyphs">−3.931</text>
<text x="362.6" y="325.6" font-size="11.3" textLength="30.8" lengthAdjust="spacingAndGlyphs">−1.329</text>
<text x="434.1" y="325.6" font-size="11.3" textLength="24.8" lengthAdjust="spacingAndGlyphs">1.273</text>
<text x="498.6" y="325.6" font-size="11.3" textLength="25.0" lengthAdjust="spacingAndGlyphs">3.875</text>
<text x="350.1" y="342.4" font-size="11.3" word-spacing="-0.3" textLength="125.8" lengthAdjust="spacingAndGlyphs" xml:space="preserve">(<tspan font-weight="bold">d</tspan>) Exceeding speed limit</text>
<text x="335.3" y="357.4" font-size="11.3" textLength="155.4" lengthAdjust="spacingAndGlyphs" word-spacing="-0.8">2018, Mean = −0.028, SD = 1.301</text>
<path d="M6.20,477.46 L7.95,477.45 L9.71,477.44 L11.46,477.43 L13.22,477.41 L14.97,477.39 L16.73,477.37 L18.48,477.34 L20.24,477.31 L21.99,477.26 L23.74,477.22 L25.50,477.16 L27.25,477.09 L29.01,477.01 L30.76,476.92 L32.52,476.81 L34.27,476.69 L36.03,476.54 L37.78,476.37 L39.53,476.17 L41.29,475.95 L43.04,475.69 L44.80,475.39 L46.55,475.05 L48.31,474.66 L50.06,474.23 L51.82,473.73 L53.57,473.18 L55.32,472.55 L57.08,471.85 L58.83,471.07 L60.59,470.21 L62.34,469.25 L64.10,468.19 L65.85,467.02 L67.61,465.74 L69.36,464.34 L71.11,462.82 L72.87,461.17 L74.62,459.38 L76.38,457.46 L78.13,455.39 L79.89,453.18 L81.64,450.82 L83.40,448.31 L85.15,445.67 L86.90,442.87 L88.66,439.94 L90.41,436.88 L92.17,433.69 L93.92,430.39 L95.68,426.97 L97.43,423.47 L99.19,419.88 L100.94,416.23 L102.69,412.53 L104.45,408.80 L106.20,405.07 L107.96,401.34 L109.71,397.65 L111.47,394.02 L113.22,390.47 L114.97,387.03 L116.73,383.71 L118.48,380.54 L120.24,377.56 L121.99,374.77 L123.75,372.20 L125.50,369.87 L127.26,367.80 L129.01,366.01 L130.76,364.50 L132.52,363.30 L134.27,362.42 L136.03,361.85 L137.78,361.61 L139.54,361.70 L141.29,362.11 L143.05,362.84 L144.80,363.90 L146.55,365.26 L146.55,477.5 Z" fill="#a0b6d1"/>
<path d="M146.55,365.26 L148.10,366.70 L149.65,368.37 L151.19,370.24 L152.74,372.32 L154.28,374.58 L155.83,377.01 L157.37,379.60 L158.92,382.33 L160.46,385.19 L162.01,388.16 L163.56,391.23 L165.10,394.37 L166.65,397.57 L168.19,400.81 L169.74,404.09 L171.28,407.38 L172.83,410.67 L174.37,413.95 L175.92,417.19 L177.47,420.40 L179.01,423.55 L180.56,426.65 L182.10,429.66 L183.65,432.60 L185.19,435.45 L186.74,438.21 L188.29,440.87 L189.83,443.42 L191.38,445.86 L192.92,448.19 L194.47,450.41 L196.01,452.52 L197.56,454.51 L199.10,456.39 L200.65,458.16 L202.20,459.82 L203.74,461.37 L205.29,462.82 L206.83,464.17 L208.38,465.42 L209.92,466.58 L211.47,467.65 L213.01,468.63 L214.56,469.53 L216.11,470.36 L217.65,471.11 L219.20,471.80 L220.74,472.42 L222.29,472.99 L223.83,473.50 L225.38,473.96 L226.92,474.38 L228.47,474.75 L230.02,475.08 L231.56,475.38 L233.11,475.65 L234.65,475.88 L236.20,476.09 L237.74,476.27 L239.29,476.44 L240.83,476.58 L242.38,476.71 L243.93,476.82 L245.47,476.91 L247.02,477.00 L248.56,477.07 L250.11,477.13 L251.65,477.19 L253.20,477.23 L254.74,477.27 L256.29,477.31 L257.84,477.34 L259.38,477.36 L260.93,477.38 L262.47,477.40 L264.02,477.42 L265.56,477.43 L267.11,477.44 L268.65,477.45 L270.20,477.46 L146.55,477.5 Z" fill="#ede9e9"/>
<path d="M6.20,477.46 L7.52,477.45 L8.84,477.45 L10.16,477.44 L11.48,477.43 L12.80,477.42 L14.12,477.40 L15.44,477.39 L16.76,477.37 L18.08,477.35 L19.40,477.32 L20.72,477.29 L22.04,477.26 L23.36,477.23 L24.68,477.19 L26.00,477.14 L27.32,477.09 L28.64,477.03 L29.96,476.97 L31.28,476.89 L32.60,476.81 L33.92,476.71 L35.24,476.61 L36.56,476.49 L37.88,476.36 L39.20,476.21 L40.52,476.05 L41.84,475.87 L43.16,475.67 L44.48,475.45 L45.80,475.20 L47.12,474.93 L48.44,474.63 L49.76,474.31 L51.08,473.95 L52.40,473.55 L53.72,473.12 L55.04,472.66 L56.36,472.15 L57.68,471.59 L59.00,470.99 L60.32,470.34 L61.64,469.64 L62.96,468.88 L64.28,468.07 L65.60,467.19 L66.92,466.25 L68.24,465.25 L69.56,464.18 L70.88,463.03 L72.20,461.81 L73.52,460.52 L74.84,459.15 L76.16,457.70 L77.48,456.17 L78.80,454.56 L80.12,452.87 L81.44,451.10 L82.76,449.24 L84.08,447.30 L85.40,445.28 L86.72,443.17 L88.04,440.99 L89.36,438.73 L90.68,436.40 L92.00,434.00 L93.32,431.53 L94.64,429.00 L95.96,426.41 L97.28,423.77 L98.60,421.09 L99.92,418.36 L101.24,415.60 L102.56,412.82 L103.88,410.01 L105.20,407.20 L106.52,404.39 L107.84,401.59 L109.16,398.81 L110.48,396.06 L111.80,393.34 L113.12,390.67 L114.44,388.06 L115.76,385.52 L117.08,383.06 L118.40,380.69 L119.72,378.42 L121.04,376.26 L122.36,374.21 L123.68,372.29 L125.00,370.51 L126.32,368.87 L127.64,367.38 L128.96,366.06 L130.28,364.89 L131.60,363.89 L132.92,363.07 L134.24,362.43 L135.56,361.97 L136.88,361.69 L138.20,361.60 L139.52,361.69 L140.84,361.97 L142.16,362.43 L143.48,363.07 L144.80,363.89 L146.12,364.89 L147.44,366.06 L148.76,367.38 L150.08,368.87 L151.40,370.51 L152.72,372.29 L154.04,374.21 L155.36,376.26 L156.68,378.42 L158.00,380.69 L159.32,383.06 L160.64,385.52 L161.96,388.06 L163.28,390.67 L164.60,393.34 L165.92,396.06 L167.24,398.81 L168.56,401.59 L169.88,404.39 L171.20,407.20 L172.52,410.01 L173.84,412.82 L175.16,415.60 L176.48,418.36 L177.80,421.09 L179.12,423.77 L180.44,426.41 L181.76,429.00 L183.08,431.53 L184.40,434.00 L185.72,436.40 L187.04,438.73 L188.36,440.99 L189.68,443.17 L191.00,445.28 L192.32,447.30 L193.64,449.24 L194.96,451.10 L196.28,452.87 L197.60,454.56 L198.92,456.17 L200.24,457.70 L201.56,459.15 L202.88,460.52 L204.20,461.81 L205.52,463.03 L206.84,464.18 L208.16,465.25 L209.48,466.25 L210.80,467.19 L212.12,468.07 L213.44,468.88 L214.76,469.64 L216.08,470.34 L217.40,470.99 L218.72,471.59 L220.04,472.15 L221.36,472.66 L222.68,473.12 L224.00,473.55 L225.32,473.95 L226.64,474.31 L227.96,474.63 L229.28,474.93 L230.60,475.20 L231.92,475.45 L233.24,475.67 L234.56,475.87 L235.88,476.05 L237.20,476.21 L238.52,476.36 L239.84,476.49 L241.16,476.61 L242.48,476.71 L243.80,476.81 L245.12,476.89 L246.44,476.97 L247.76,477.03 L249.08,477.09 L250.40,477.14 L251.72,477.19 L253.04,477.23 L254.36,477.26 L255.68,477.29 L257.00,477.32 L258.32,477.35 L259.64,477.37 L260.96,477.39 L262.28,477.40 L263.60,477.42 L264.92,477.43 L266.24,477.44 L267.56,477.45 L268.88,477.45 L270.20,477.46" fill="none" stroke="#464646" stroke-width="1"/>
<path d="M6.20,477.5 L146.55,477.5" fill="none" stroke="#3a3f48" stroke-width="1"/>
<path d="M146.55,477.5 L270.20,477.5" fill="none" stroke="#4c4c4c" stroke-width="0.95"/>
<path d="M146.55,365.26 L146.55,477.5" stroke="#2a2a2a" stroke-width="0.85" fill="none"/>
<path d="M39.20,482.7 L237.20,482.7 M39.20,482.7 v6.1 M72.20,482.7 v6.1 M105.20,482.7 v6.1 M138.20,482.7 v6.1 M171.20,482.7 v6.1 M204.20,482.7 v6.1 M237.20,482.7 v6.1" stroke="#444" stroke-width="1" fill="none"/>
<text class="p" x="169.7" y="459.5" font-size="10.3" text-anchor="middle">40%</text>
<text x="22.1" y="503.5" font-size="11.3" textLength="31.3" lengthAdjust="spacingAndGlyphs">−4.356</text>
<text x="87.3" y="503.5" font-size="11.3" textLength="31.1" lengthAdjust="spacingAndGlyphs">−1.678</text>
<text x="158.6" y="503.5" font-size="11.3" textLength="25.8" lengthAdjust="spacingAndGlyphs">1.000</text>
<text x="223.8" y="503.5" font-size="11.3" textLength="25.1" lengthAdjust="spacingAndGlyphs">3.678</text>
<text x="102.9" y="519.7" font-size="11.3" word-spacing="-0.3" textLength="70.2" lengthAdjust="spacingAndGlyphs" xml:space="preserve">(<tspan font-weight="bold">e</tspan>) Work zone</text>
<text x="60.4" y="534.5" font-size="11.3" textLength="155.3" lengthAdjust="spacingAndGlyphs" word-spacing="-0.8">2019, Mean = −0.339, SD = 1.339</text>
<path d="M283.88,479.06 L284.89,479.06 L285.91,479.05 L286.92,479.04 L287.93,479.04 L288.94,479.03 L289.96,479.02 L290.97,479.01 L291.98,479.00 L293.00,478.98 L294.01,478.97 L295.02,478.95 L296.04,478.94 L297.05,478.92 L298.06,478.90 L299.07,478.87 L300.09,478.85 L301.10,478.82 L302.11,478.79 L303.13,478.75 L304.14,478.71 L305.15,478.67 L306.17,478.62 L307.18,478.57 L308.19,478.51 L309.20,478.45 L310.22,478.38 L311.23,478.31 L312.24,478.22 L313.26,478.13 L314.27,478.04 L315.28,477.93 L316.29,477.82 L317.31,477.69 L318.32,477.55 L319.33,477.41 L320.35,477.25 L321.36,477.07 L322.37,476.89 L323.39,476.69 L324.40,476.47 L325.41,476.23 L326.42,475.98 L327.44,475.71 L328.45,475.42 L329.46,475.10 L330.48,474.77 L331.49,474.41 L332.50,474.03 L333.51,473.62 L334.53,473.18 L335.54,472.72 L336.55,472.22 L337.57,471.70 L338.58,471.14 L339.59,470.55 L340.61,469.92 L341.62,469.26 L342.63,468.56 L343.64,467.82 L344.66,467.03 L345.67,466.21 L346.68,465.35 L347.70,464.44 L348.71,463.49 L349.72,462.49 L350.74,461.44 L351.75,460.35 L352.76,459.21 L353.77,458.02 L354.79,456.78 L355.80,455.49 L356.81,454.15 L357.83,452.76 L358.84,451.32 L359.85,449.82 L360.86,448.28 L361.88,446.69 L362.89,445.05 L363.90,443.36 L364.92,441.63 L364.92,479.1 Z" fill="#a0b6d1"/>
<path d="M364.92,441.63 L367.15,437.64 L369.39,433.44 L371.62,429.05 L373.86,424.50 L376.09,419.82 L378.33,415.04 L380.56,410.21 L382.80,405.36 L385.03,400.53 L387.27,395.79 L389.50,391.19 L391.74,386.76 L393.97,382.57 L396.21,378.67 L398.44,375.10 L400.68,371.92 L402.91,369.15 L405.15,366.85 L407.38,365.05 L409.62,363.76 L411.85,363.01 L414.09,362.80 L416.32,363.15 L418.56,364.04 L420.79,365.46 L423.03,367.40 L425.26,369.82 L427.50,372.70 L429.73,375.98 L431.97,379.64 L434.20,383.62 L436.44,387.88 L438.67,392.36 L440.91,397.00 L443.14,401.77 L445.38,406.60 L447.61,411.45 L449.85,416.28 L452.08,421.04 L454.32,425.69 L456.55,430.20 L458.79,434.54 L461.02,438.68 L463.26,442.62 L465.49,446.33 L467.73,449.79 L469.96,453.02 L472.20,456.00 L474.43,458.74 L476.67,461.23 L478.90,463.50 L481.14,465.54 L483.37,467.37 L485.61,469.00 L487.84,470.45 L490.08,471.72 L492.31,472.84 L494.55,473.81 L496.78,474.65 L499.02,475.38 L501.25,476.00 L503.49,476.53 L505.72,476.98 L507.96,477.36 L510.19,477.68 L512.43,477.94 L514.66,478.16 L516.90,478.35 L519.13,478.50 L521.37,478.62 L523.60,478.72 L525.84,478.80 L528.07,478.86 L530.31,478.91 L532.54,478.95 L534.78,478.99 L537.01,479.01 L539.25,479.03 L541.48,479.05 L543.72,479.06 L364.92,479.1 Z" fill="#ede9e9"/>
<path d="M283.88,479.06 L285.18,479.05 L286.48,479.05 L287.78,479.04 L289.08,479.03 L290.38,479.01 L291.68,479.00 L292.97,478.99 L294.27,478.97 L295.57,478.95 L296.87,478.92 L298.17,478.89 L299.47,478.86 L300.77,478.83 L302.07,478.79 L303.37,478.74 L304.67,478.69 L305.97,478.63 L307.27,478.56 L308.56,478.49 L309.86,478.40 L311.16,478.31 L312.46,478.21 L313.76,478.09 L315.06,477.96 L316.36,477.81 L317.66,477.64 L318.96,477.46 L320.26,477.26 L321.56,477.04 L322.86,476.79 L324.16,476.52 L325.45,476.22 L326.75,475.89 L328.05,475.53 L329.35,475.14 L330.65,474.71 L331.95,474.24 L333.25,473.73 L334.55,473.17 L335.85,472.57 L337.15,471.92 L338.45,471.21 L339.75,470.46 L341.04,469.64 L342.34,468.76 L343.64,467.82 L344.94,466.81 L346.24,465.73 L347.54,464.58 L348.84,463.36 L350.14,462.06 L351.44,460.69 L352.74,459.23 L354.04,457.70 L355.34,456.08 L356.64,454.39 L357.93,452.60 L359.23,450.74 L360.53,448.79 L361.83,446.76 L363.13,444.65 L364.43,442.47 L365.73,440.20 L367.03,437.86 L368.33,435.45 L369.63,432.97 L370.93,430.43 L372.23,427.84 L373.52,425.19 L374.82,422.49 L376.12,419.75 L377.42,416.99 L378.72,414.19 L380.02,411.38 L381.32,408.56 L382.62,405.74 L383.92,402.93 L385.22,400.14 L386.52,397.37 L387.82,394.65 L389.12,391.97 L390.41,389.35 L391.71,386.81 L393.01,384.34 L394.31,381.96 L395.61,379.68 L396.91,377.51 L398.21,375.45 L399.51,373.53 L400.81,371.74 L402.11,370.10 L403.41,368.60 L404.71,367.27 L406.00,366.10 L407.30,365.10 L408.60,364.28 L409.90,363.63 L411.20,363.17 L412.50,362.89 L413.80,362.80 L415.10,362.89 L416.40,363.17 L417.70,363.63 L419.00,364.28 L420.30,365.10 L421.60,366.10 L422.89,367.27 L424.19,368.60 L425.49,370.10 L426.79,371.74 L428.09,373.53 L429.39,375.45 L430.69,377.51 L431.99,379.68 L433.29,381.96 L434.59,384.34 L435.89,386.81 L437.19,389.35 L438.48,391.97 L439.78,394.65 L441.08,397.37 L442.38,400.14 L443.68,402.93 L444.98,405.74 L446.28,408.56 L447.58,411.38 L448.88,414.19 L450.18,416.99 L451.48,419.75 L452.78,422.49 L454.08,425.19 L455.37,427.84 L456.67,430.43 L457.97,432.97 L459.27,435.45 L460.57,437.86 L461.87,440.20 L463.17,442.47 L464.47,444.65 L465.77,446.76 L467.07,448.79 L468.37,450.74 L469.67,452.60 L470.96,454.39 L472.26,456.08 L473.56,457.70 L474.86,459.23 L476.16,460.69 L477.46,462.06 L478.76,463.36 L480.06,464.58 L481.36,465.73 L482.66,466.81 L483.96,467.82 L485.26,468.76 L486.56,469.64 L487.85,470.46 L489.15,471.21 L490.45,471.92 L491.75,472.57 L493.05,473.17 L494.35,473.73 L495.65,474.24 L496.95,474.71 L498.25,475.14 L499.55,475.53 L500.85,475.89 L502.15,476.22 L503.44,476.52 L504.74,476.79 L506.04,477.04 L507.34,477.26 L508.64,477.46 L509.94,477.64 L511.24,477.81 L512.54,477.96 L513.84,478.09 L515.14,478.21 L516.44,478.31 L517.74,478.40 L519.04,478.49 L520.33,478.56 L521.63,478.63 L522.93,478.69 L524.23,478.74 L525.53,478.79 L526.83,478.83 L528.13,478.86 L529.43,478.89 L530.73,478.92 L532.03,478.95 L533.33,478.97 L534.63,478.99 L535.92,479.00 L537.22,479.01 L538.52,479.03 L539.82,479.04 L541.12,479.05 L542.42,479.05 L543.72,479.06" fill="none" stroke="#464646" stroke-width="1"/>
<path d="M283.88,479.1 L364.92,479.1" fill="none" stroke="#3a3f48" stroke-width="1"/>
<path d="M364.92,479.1 L543.72,479.1" fill="none" stroke="#4c4c4c" stroke-width="0.95"/>
<path d="M364.92,441.63 L364.92,479.1" stroke="#2a2a2a" stroke-width="0.85" fill="none"/>
<path d="M316.36,484.0 L511.24,484.0 M316.36,484.0 v6.1 M348.84,484.0 v6.1 M381.32,484.0 v6.1 M413.80,484.0 v6.1 M446.28,484.0 v6.1 M478.76,484.0 v6.1 M511.24,484.0 v6.1" stroke="#444" stroke-width="1" fill="none"/>
<text class="p" x="421.6" y="461.1" font-size="10.3" text-anchor="middle">93.38%</text>
<text x="299.8" y="502.4" font-size="11.3" textLength="30.9" lengthAdjust="spacingAndGlyphs">−0.743</text>
<text x="371.3" y="502.4" font-size="11.3" textLength="23.9" lengthAdjust="spacingAndGlyphs">0.251</text>
<text x="436.3" y="502.4" font-size="11.3" textLength="24.6" lengthAdjust="spacingAndGlyphs">1.245</text>
<text x="501.1" y="502.4" font-size="11.3" textLength="25.0" lengthAdjust="spacingAndGlyphs">2.239</text>
<text x="360.0" y="519.7" font-size="11.3" word-spacing="-0.3" textLength="106.0" lengthAdjust="spacingAndGlyphs" xml:space="preserve">(<tspan font-weight="bold">f</tspan>) Depressed median</text>
<text x="338.3" y="534.5" font-size="11.3" textLength="151.5" lengthAdjust="spacingAndGlyphs" word-spacing="-0.8">2017, Mean = 0.748, SD = 0.497</text>
</svg>
</body></html>
